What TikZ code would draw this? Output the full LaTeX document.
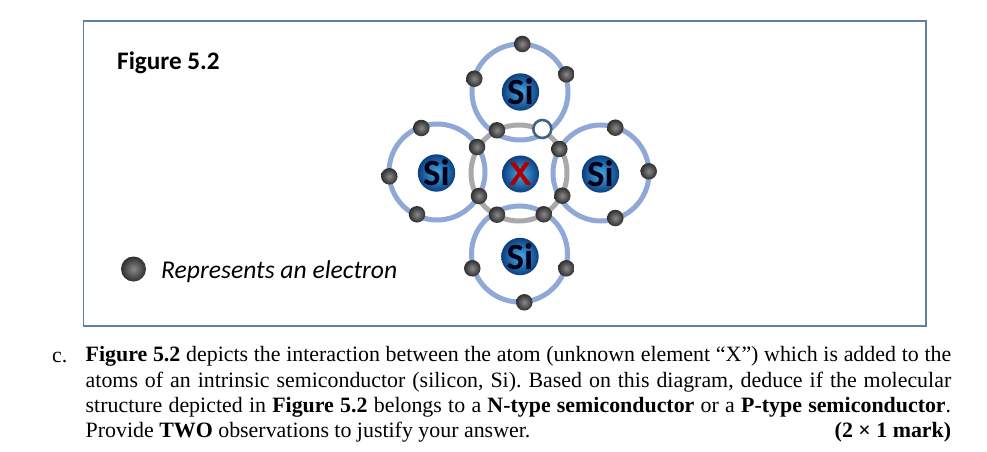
\documentclass[tikz,border=0pt]{standalone}
\usepackage{fontspec}
\setmainfont{Liberation Serif}
\newfontfamily\carlito{Carlito}
\usepackage{xcolor}
\definecolor{framecol}{HTML}{5F7FA3}
\definecolor{orbitcol}{HTML}{8FA8D6}
\definecolor{bondcol}{HTML}{A9A9A9}
\definecolor{holecol}{HTML}{3F6285}
\definecolor{coreinner}{HTML}{45ABE8}
\definecolor{coreouter}{HTML}{0C3F80}
\definecolor{shellinner}{HTML}{8A8A8A}
\definecolor{shellouter}{HTML}{2E2E2E}
\tikzset{
  orbit/.style={draw=orbitcol, line width=5pt},
  bond/.style={draw=bondcol, line width=5pt},
  electron/.style={circle, minimum size=16.5pt, inner sep=0pt, inner color=shellinner, outer color=shellouter},
  nucleus/.style={circle, minimum size=37pt, inner sep=0pt, inner color=coreinner, outer color=coreouter, font=\carlito\bfseries\fontsize{37}{37}\selectfont, text=black!90!blue},
  hole/.style={circle, minimum size=18pt, inner sep=0pt, fill=white, draw=holecol, line width=2.6pt},
  question/.style={inner sep=0pt, font=\fontsize{21.9}{25.3}\selectfont}
}
\begin{document}
\begin{tikzpicture}[x=1pt,y=-1pt]
\useasboundingbox (0,0) rectangle (987,452);
\fill[white] (0,0) rectangle (987,452);
\draw[framecol, line width=1.3pt] (83.5,21) rectangle (926,326);
\node[inner sep=0pt, anchor=base west, font=\carlito\bfseries\fontsize{25.2}{25.2}\selectfont] (title) at (117,69.5) {Figure 5.2};
\node[electron, minimum size=25pt] (legend) at (133.5,269) {};
\node[inner sep=0pt, anchor=base west, font=\carlito\itshape\fontsize{25.6}{25.6}\selectfont] (legendtext) at (161,278) {Represents an electron};
% orbits
\draw[orbit] (520,92) circle[radius=48pt];
\draw[orbit] (437,172) circle[radius=48pt];
\draw[orbit] (601,173) circle[radius=48pt];
\draw[orbit] (519.5,254) circle[radius=48pt];
\draw[bond] (519,173) circle[radius=48pt];
% nuclei
\node[nucleus] (sitop) at (520.5,92) {Si};
\node[nucleus] (sileft) at (436.5,173) {Si};
\node[nucleus] (siright) at (600.5,174) {Si};
\node[nucleus] (sibottom) at (520,256.5) {Si};
\node[nucleus] (xatom) at (520.5,174) {};
\node[text=red!70!black, font=\sffamily\bfseries\fontsize{33}{33}\selectfont, inner sep=0pt] (xlabel) at (520.5,174.5) {X};
% electrons
\foreach \name/\x/\y in {ta/522.3/44, tb/566.3/74.3, tc/474.3/78.7, td/497/130.3,
  la/421.3/128, lb/389.3/176.3, lc/417/214.3,
  ra/615.3/127.7, rb/648.7/171.3, rc/615.3/218,
  ba/472.3/268.3, bb/566.3/268.3, bc/524.3/302.3,
  ca/477/147, cb/559.3/149, cc/479/196, cd/562.3/195.7, ce/497/214.7, cf/543.7/214.3}
  \node[electron] (\name) at (\x,\y) {};
\node[hole] (gap) at (542.3,129) {};
% question text
\node[question, anchor=base west] (item) at (52,362) {c.};
\node[question, anchor=north west, text width=865.5pt, align=justify] (body) at (85.5,346.5) {\frenchspacing\textbf{Figure 5.2} depicts the interaction between the atom (unknown element “X”) which is added to the\linebreak
atoms of an intrinsic semiconductor (silicon, Si). Based on this diagram, deduce if the molecular\linebreak
structure depicted in \textbf{Figure 5.2} belongs to a \textbf{N-type semiconductor} or a \textbf{P-type semiconductor}.\linebreak
Provide \textbf{TWO} observations to justify your answer.\hfill\textbf{(2 × 1 mark)}};
\end{tikzpicture}
\end{document}
